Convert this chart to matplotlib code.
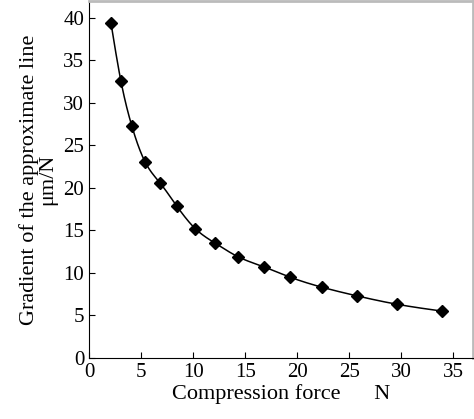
import matplotlib
matplotlib.use("Agg")
import matplotlib.pyplot as plt
import numpy as np

force = [2.1, 3.05, 4.1, 5.4, 6.8, 8.4, 10.2, 12.1, 14.3, 16.8, 19.3, 22.4, 25.7, 29.6, 33.9]
gradient = [39.4, 32.6, 27.3, 23.0, 20.6, 17.9, 15.2, 13.5, 11.9, 10.7, 9.5, 8.3, 7.3, 6.3, 5.5]
x_ticks = [0, 5, 10, 15, 20, 25, 30, 35]
y_ticks = [0, 5, 10, 15, 20, 25, 30, 35, 40]


def natural_spline(x, y, n=400):
    x = np.asarray(x, float)
    y = np.asarray(y, float)
    k = len(x)
    h = np.diff(x)
    a = np.zeros((k, k))
    b = np.zeros(k)
    a[0, 0] = a[-1, -1] = 1
    for i in range(1, k - 1):
        a[i, i - 1] = h[i - 1]
        a[i, i] = 2 * (h[i - 1] + h[i])
        a[i, i + 1] = h[i]
        b[i] = 3 * ((y[i + 1] - y[i]) / h[i] - (y[i] - y[i - 1]) / h[i - 1])
    c = np.linalg.solve(a, b)
    xs = np.linspace(x[0], x[-1], n)
    idx = np.clip(np.searchsorted(x, xs) - 1, 0, k - 2)
    dx = xs - x[idx]
    bb = (y[idx + 1] - y[idx]) / h[idx] - h[idx] * (2 * c[idx] + c[idx + 1]) / 3
    dd = (c[idx + 1] - c[idx]) / (3 * h[idx])
    return xs, y[idx] + bb * dx + c[idx] * dx ** 2 + dd * dx ** 3


plt.rcParams["font.family"] = ["Liberation Serif", "DejaVu Serif"]
plt.rcParams["font.size"] = 15

fig = plt.figure(figsize=(4.74, 4.19), dpi=100)
ax = fig.add_axes([0.188, 0.146, 0.81, 0.852])

xs, ys = natural_spline(force, gradient)
ax.plot(xs, ys, color="black", lw=1.1)
ax.plot(force, gradient, "D", color="black", ms=6.5)

ax.set_xlim(0, 36.9)
ax.set_ylim(0, 42)
ax.set_xticks(x_ticks)
ax.set_yticks(y_ticks)
ax.tick_params(direction="in", length=4, width=0.8, labelsize=15)
for s in ("top", "right"):
    ax.spines[s].set_color("#bbbbbb")
    ax.spines[s].set_linewidth(2)
ax.set_xlabel("Compression force      N", fontsize=16, labelpad=2)
ax.set_ylabel("Gradient of the approximate line\nμm/N", fontsize=16,
              linespacing=1.0, labelpad=4)

fig.savefig("out.png", dpi=100)
